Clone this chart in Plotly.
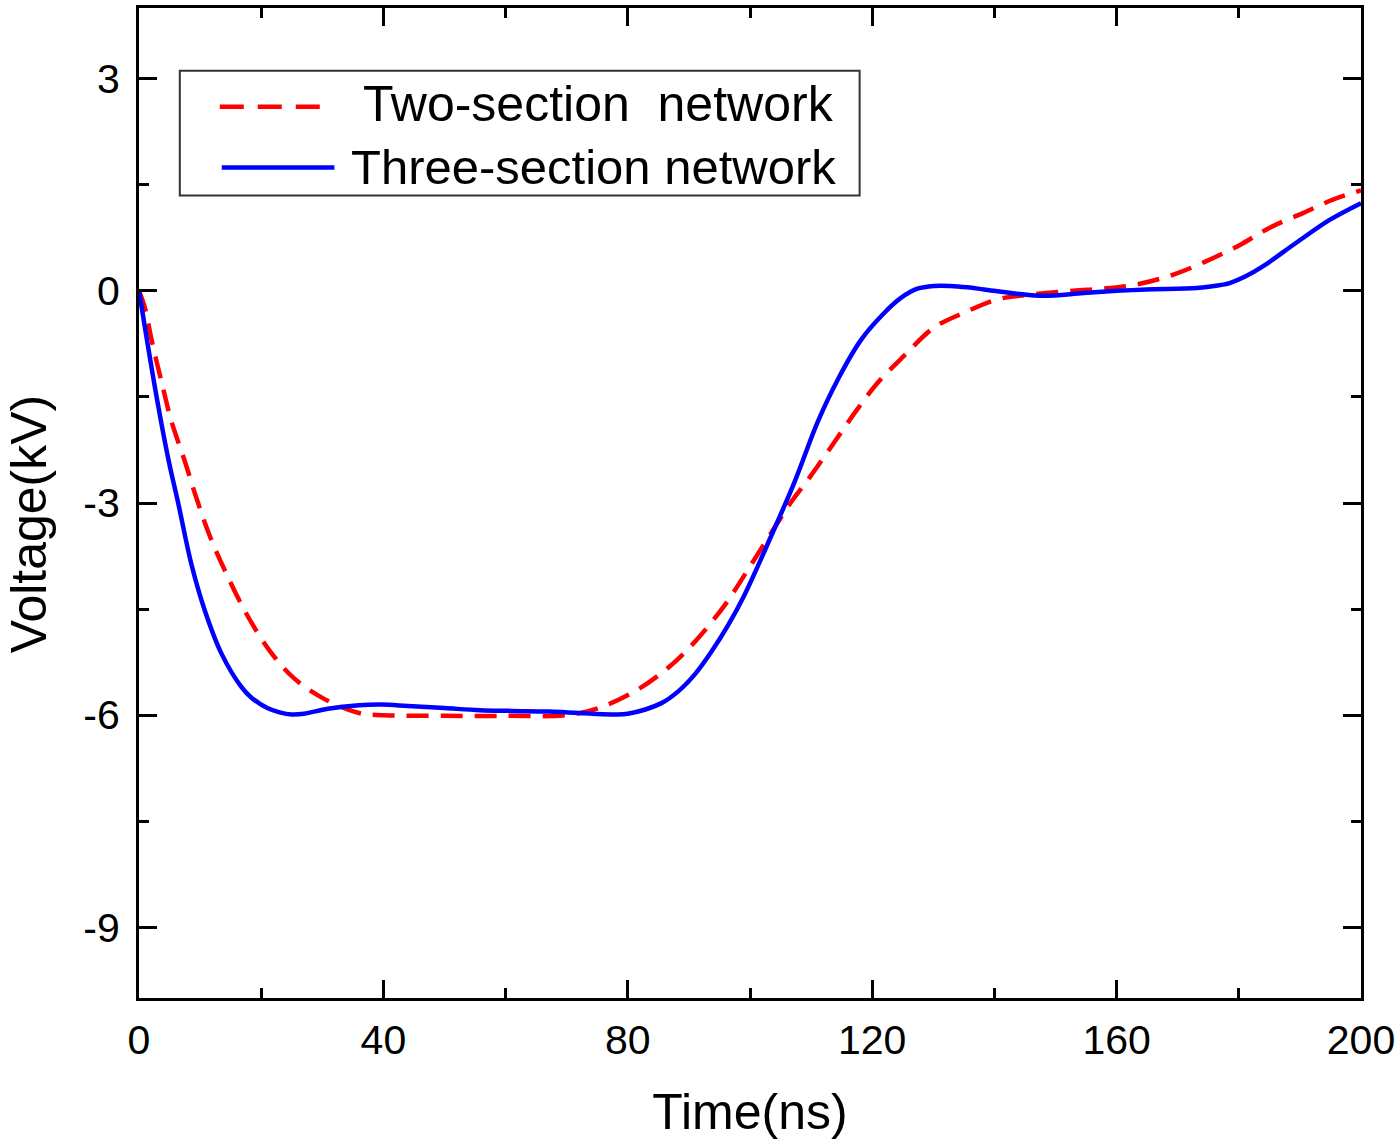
import plotly.graph_objects as go

# Two-section network (red dashed)
t_two = [0, 1, 2.07, 3.7, 5.33, 7.5, 9.4, 11.6, 14.3, 17.6, 21.4, 25.4, 30.3, 36, 40, 50, 60, 70,
         75.2, 81.2, 86.6, 91, 95.9, 99.1, 102.9, 106.7, 110, 113.8, 117.6, 120.9, 125.2,
         130.1, 135, 140.5, 146.4, 152.9, 158.9, 163.8, 169.3, 174.7, 180.2, 185, 190.5,
         195.4, 200]
v_two = [0, -0.25, -0.7, -1.29, -1.85, -2.41, -2.93, -3.47, -4.0, -4.57, -5.09, -5.48, -5.77,
         -5.97, -6.0, -6.01, -6.01, -6.0,
         -5.9, -5.66, -5.33, -4.96, -4.44, -4.02, -3.5, -2.99, -2.61, -2.14, -1.67, -1.3, -0.92,
         -0.52, -0.31, -0.12, -0.05, 0.0, 0.04, 0.1, 0.23, 0.42, 0.65, 0.89, 1.1,
         1.29, 1.42]

# Three-section network (blue solid)
t_three = [0, 2.88, 4.78, 6.41, 8.59, 10.77, 13.5, 16.75, 18.5, 21, 23, 25, 27, 30.9, 36, 39.7,
           44, 50, 55.8, 61, 67.2, 72, 77.4, 80, 85.5, 88.3, 91, 93.7, 96.4, 99.1, 103.5, 107.3,
           111.1, 114.4, 118.2, 122, 124.7, 127.4, 130.1, 132.8, 135.6, 138.3, 143.7, 148.1,
           154.6, 160, 164.9, 173.1, 176, 178.5, 181.2, 184, 189.4, 194.8, 200]
v_three = [0, -1.5, -2.37, -3.0, -3.87, -4.52, -5.13, -5.6, -5.76, -5.9, -5.96, -5.99, -5.98,
           -5.91, -5.86, -5.85,
           -5.87, -5.9, -5.93, -5.94, -5.95, -5.97, -5.99, -5.98, -5.83, -5.66, -5.42, -5.1,
           -4.73, -4.3, -3.46, -2.7,
           -1.85, -1.25, -0.69, -0.31, -0.1, 0.03, 0.07, 0.07, 0.05, 0.02, -0.04, -0.07,
           -0.03, 0.0, 0.02, 0.04, 0.07, 0.11, 0.21, 0.35, 0.68, 1.0, 1.24]

legend_names = ["Two-section  network", "Three-section network"]
x_ticks = [0, 40, 80, 120, 160, 200]
y_ticks = [3, 0, -3, -6, -9]
y_ticktext = ["3", "0", "-3", "-6", "-9"]

FONT = "Liberation Sans, Arial, sans-serif"

fig = go.Figure()
fig.add_trace(go.Scatter(x=t_two, y=v_two, mode="lines", name=legend_names[0],
                         line=dict(color="#ff0000", width=4.5, dash="22px,12px", shape="spline",
                                   smoothing=1.0),
                         showlegend=False))
fig.add_trace(go.Scatter(x=t_three, y=v_three, mode="lines", name=legend_names[1],
                         line=dict(color="#0000ff", width=4.5, shape="spline", smoothing=1.0),
                         showlegend=False))

axis_common = dict(
    showgrid=False, zeroline=False, showline=True, linecolor="black", linewidth=3,
    mirror="ticks", ticks="inside", ticklen=18, tickwidth=3, tickcolor="black",
    tickfont=dict(family=FONT, size=41, color="black"), ticklabeloverflow="allow",
)

fig.update_xaxes(range=[0, 200], tickvals=x_ticks, ticklabelstandoff=4,
                 minor=dict(dtick=20, tick0=0, ticks="inside", ticklen=10, tickwidth=3,
                            tickcolor="black"),
                 title=dict(text="Time(ns)", font=dict(family=FONT, size=50, color="black"),
                            standoff=32),
                 **axis_common)
fig.update_yaxes(range=[-10, 4], tickvals=y_ticks, ticktext=y_ticktext, ticklabelstandoff=8,
                 minor=dict(dtick=1.5, tick0=0, ticks="inside", ticklen=10, tickwidth=3,
                            tickcolor="black"),
                 **axis_common)

# Y-axis title placed as rotated text
fig.add_annotation(xref="paper", yref="paper", x=-0.0905, y=0.479, xanchor="center",
                   yanchor="middle", text="Voltage(kV)", textangle=-90, showarrow=False,
                   font=dict(family=FONT, size=50, color="black"))

# Legend box drawn in paper coordinates
fig.add_shape(type="rect", xref="paper", yref="paper", x0=0.0334, x1=0.5897, y0=0.8107,
              y1=0.9366, line=dict(color="#333333", width=2), fillcolor="white", layer="above")
fig.add_shape(type="line", xref="paper", yref="paper", x0=0.0661, x1=0.1558, y0=0.9003,
              y1=0.9003, line=dict(color="#ff0000", width=4.5, dash="24px,14px"), layer="above")
fig.add_shape(type="line", xref="paper", yref="paper", x0=0.0677, x1=0.1599, y0=0.8389,
              y1=0.8389, line=dict(color="#0000ff", width=4.5), layer="above")
fig.add_annotation(xref="paper", yref="paper", x=0.1819, y=0.903, xanchor="left",
                   yanchor="middle", text=legend_names[0].replace("  ", "&nbsp; "),
                   showarrow=False, font=dict(family=FONT, size=50, color="black"))
fig.add_annotation(xref="paper", yref="paper", x=0.1721, y=0.8389, xanchor="left",
                   yanchor="middle", text=legend_names[1], showarrow=False,
                   font=dict(family=FONT, size=49, color="black"))

fig.update_layout(
    width=1400, height=1145,
    margin=dict(l=139, r=35, t=5, b=147),
    paper_bgcolor="white", plot_bgcolor="white",
    font=dict(family=FONT, color="black"),
)

fig.write_html("out.html", config={"displayModeBar": False},
               post_script=("document.body.style.margin='0';document.body.style.padding='0';"
                            "document.body.style.overflow='hidden';"
                            "document.documentElement.style.overflow='hidden';"))
